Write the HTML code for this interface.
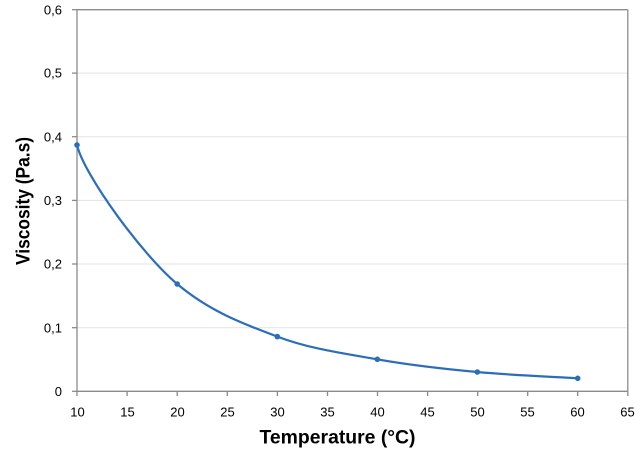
<!DOCTYPE html>
<html>
<head>
<meta charset="utf-8">
<style>
html,body{margin:0;padding:0;background:#fff;}
svg{display:block;}
</style>
</head>
<body>
<svg width="640" height="460" viewBox="0 0 640 460" xmlns="http://www.w3.org/2000/svg">
  <rect x="0" y="0" width="640" height="460" fill="#ffffff"/>
  <!-- gridlines -->
  <g stroke="#e3e3e3" stroke-width="1">
    <line x1="77" y1="73.1" x2="627.5" y2="73.1"/>
    <line x1="77" y1="136.7" x2="627.5" y2="136.7"/>
    <line x1="77" y1="200.4" x2="627.5" y2="200.4"/>
    <line x1="77" y1="264" x2="627.5" y2="264"/>
    <line x1="77" y1="327.7" x2="627.5" y2="327.7"/>
  </g>
  <!-- frame top/right -->
  <g stroke="#8c8c8c" stroke-width="1.3" fill="none">
    <line x1="77" y1="9.7" x2="627.8" y2="9.7"/>
    <line x1="627.8" y1="9.7" x2="627.8" y2="391.3"/>
  </g>
  <!-- axes -->
  <g stroke="#8a8a8a" stroke-width="1.3">
    <line x1="77" y1="9.2" x2="77" y2="391.3"/>
    <line x1="77" y1="391.3" x2="627.8" y2="391.3"/>
    <!-- y ticks -->
    <line x1="72" y1="9.7" x2="77" y2="9.7"/>
    <line x1="72" y1="73.1" x2="77" y2="73.1"/>
    <line x1="72" y1="136.7" x2="77" y2="136.7"/>
    <line x1="72" y1="200.4" x2="77" y2="200.4"/>
    <line x1="72" y1="264" x2="77" y2="264"/>
    <line x1="72" y1="327.7" x2="77" y2="327.7"/>
    <line x1="72" y1="391.3" x2="77" y2="391.3"/>
    <!-- x ticks -->
    <line x1="77" y1="391.3" x2="77" y2="396"/>
    <line x1="127.1" y1="391.3" x2="127.1" y2="396"/>
    <line x1="177.2" y1="391.3" x2="177.2" y2="396"/>
    <line x1="227.3" y1="391.3" x2="227.3" y2="396"/>
    <line x1="277.4" y1="391.3" x2="277.4" y2="396"/>
    <line x1="327.5" y1="391.3" x2="327.5" y2="396"/>
    <line x1="377.5" y1="391.3" x2="377.5" y2="396"/>
    <line x1="427.6" y1="391.3" x2="427.6" y2="396"/>
    <line x1="477.7" y1="391.3" x2="477.7" y2="396"/>
    <line x1="527.7" y1="391.3" x2="527.7" y2="396"/>
    <line x1="577.7" y1="391.3" x2="577.7" y2="396"/>
    <line x1="627.8" y1="391.3" x2="627.8" y2="396"/>
  </g>
  <!-- y tick labels -->
  <g font-family="Liberation Sans, Arial, sans-serif" font-size="13" fill="#000" text-anchor="end">
    <text x="62" y="14.3">0,6</text>
    <text x="62" y="77.7">0,5</text>
    <text x="62" y="141.3">0,4</text>
    <text x="62" y="205">0,3</text>
    <text x="62" y="268.6">0,2</text>
    <text x="62" y="332.3">0,1</text>
    <text x="62" y="395.9">0</text>
  </g>
  <!-- x tick labels -->
  <g font-family="Liberation Sans, Arial, sans-serif" font-size="13" fill="#000" text-anchor="middle">
    <text x="77.5" y="416.7">10</text>
    <text x="127.5" y="416.7">15</text>
    <text x="177.5" y="416.7">20</text>
    <text x="227.5" y="416.7">25</text>
    <text x="277.5" y="416.7">30</text>
    <text x="327.5" y="416.7">35</text>
    <text x="377.5" y="416.7">40</text>
    <text x="427.5" y="416.7">45</text>
    <text x="477.5" y="416.7">50</text>
    <text x="527.5" y="416.7">55</text>
    <text x="577.5" y="416.7">60</text>
    <text x="627.5" y="416.7">65</text>
  </g>
  <!-- axis titles -->
  <text x="337.5" y="443.3" font-family="Liberation Sans, Arial, sans-serif" font-size="19" font-weight="bold" text-anchor="middle" textLength="156" lengthAdjust="spacingAndGlyphs">Temperature (°C)</text>
  <text transform="translate(29.5,201) rotate(-90)" x="0" y="0" font-family="Liberation Sans, Arial, sans-serif" font-size="19" font-weight="bold" text-anchor="middle" textLength="128" lengthAdjust="spacingAndGlyphs">Viscosity (Pa.s)</text>
  <!-- series -->
  <path d="M77,145 C84,175 142,254.5 177.2,284 C210.3,311.8 243.67,323.95 277.3,336.6 C310.33,349.05 343.67,353.38 377.3,359.3 C410.33,365.22 443.58,368.83 477.3,372 C510.42,375.17 560.75,377.25 577.7,378.3" fill="none" stroke="#2a6ebb" stroke-width="2.2" stroke-linejoin="round" stroke-linecap="round"/>
  <g fill="#2a6ebb">
    <circle cx="77" cy="145" r="2.8"/>
    <circle cx="177.2" cy="284" r="2.8"/>
    <circle cx="277.3" cy="336.6" r="2.8"/>
    <circle cx="377.3" cy="359.3" r="2.8"/>
    <circle cx="477.3" cy="372" r="2.8"/>
    <circle cx="577.7" cy="378.3" r="2.8"/>
  </g>
</svg>
</body>
</html>
